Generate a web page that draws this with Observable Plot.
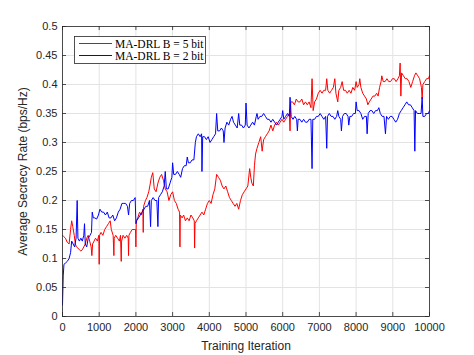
<!DOCTYPE html>
<html>
<head>
<meta charset="utf-8">
<script src="https://cdn.jsdelivr.net/npm/d3@7"></script>
<script src="https://cdn.jsdelivr.net/npm/@observablehq/plot@0.6"></script>
<style>
  html, body { margin: 0; padding: 0; background: #fff; }
  #chart svg { display: block; }
</style>
</head>
<body>
<div id="chart"></div>
<script>
const seriesNames = ["MA-DRL B = 5 bit", "MA-DRL B = 2 bit"];
const seriesColors = ["#ff0000", "#0000ff"];
const xTicks = [0, 1000, 2000, 3000, 4000, 5000, 6000, 7000, 8000, 9000, 10000];
const yTicks = [0, 0.05, 0.1, 0.15, 0.2, 0.25, 0.3, 0.35, 0.4, 0.45, 0.5];
const xLabel = "Training Iteration";
const yLabel = "Average Secrecy Rate (bps/Hz)";

const redIter = [0,30,80,130,180,220,250,280,320,350,380,420,460,500,540,580,620,660,700,740,780,800,820,860,900,950,990,1000,1010,1050,1100,1150,1200,1250,1300,1330,1380,1400,1410,1450,1500,1550,1580,1600,1610,1650,1700,1750,1790,1800,1810,1850,1900,1950,1990,2000,2010,2050,2100,2150,2190,2200,2210,2260,2300,2350,2380,2420,2460,2500,2550,2600,2650,2700,2750,2800,2850,2900,2950,3000,3050,3100,3150,3190,3200,3210,3260,3300,3350,3400,3450,3500,3550,3590,3600,3610,3650,3700,3750,3800,3850,3900,3950,4000,4050,4100,4150,4200,4250,4300,4350,4400,4450,4500,4550,4600,4650,4700,4750,4800,4850,4900,4950,5000,5050,5100,5130,5160,5200,5230,5260,5300,5350,5400,5440,5480,5530,5580,5630,5680,5730,5780,5830,5880,5930,5980,6030,6080,6130,6180,6200,6220,6270,6320,6370,6420,6470,6520,6570,6620,6670,6720,6770,6800,6830,6870,6920,6970,7020,7070,7120,7170,7200,7230,7280,7330,7380,7420,7450,7500,7530,7580,7620,7660,7710,7760,7810,7860,7910,7960,8000,8030,8080,8100,8130,8180,8230,8280,8320,8360,8410,8460,8510,8560,8600,8640,8680,8700,8740,8790,8840,8890,8940,8990,9040,9090,9140,9180,9200,9220,9240,9290,9340,9390,9440,9490,9540,9590,9630,9680,9730,9780,9800,9820,9870,9920,9970,10000];
const redRate = [0.14,0.138,0.135,0.128,0.125,0.15,0.165,0.155,0.14,0.125,0.12,0.118,0.115,0.113,0.115,0.12,0.125,0.135,0.14,0.13,0.12,0.105,0.125,0.13,0.135,0.13,0.14,0.09,0.14,0.145,0.14,0.15,0.155,0.16,0.165,0.15,0.14,0.105,0.135,0.14,0.135,0.13,0.14,0.095,0.13,0.14,0.135,0.14,0.135,0.105,0.14,0.145,0.15,0.15,0.15,0.12,0.165,0.17,0.18,0.175,0.185,0.145,0.19,0.2,0.205,0.215,0.225,0.24,0.248,0.22,0.215,0.23,0.24,0.245,0.235,0.22,0.215,0.2,0.21,0.215,0.2,0.195,0.185,0.18,0.12,0.175,0.17,0.175,0.165,0.17,0.165,0.175,0.17,0.165,0.118,0.16,0.165,0.17,0.175,0.18,0.175,0.185,0.195,0.2,0.195,0.21,0.22,0.245,0.24,0.235,0.225,0.22,0.225,0.215,0.205,0.2,0.195,0.19,0.195,0.185,0.2,0.21,0.215,0.22,0.225,0.255,0.24,0.23,0.225,0.26,0.28,0.29,0.3,0.31,0.285,0.305,0.31,0.315,0.32,0.33,0.32,0.33,0.335,0.33,0.335,0.34,0.335,0.34,0.345,0.35,0.32,0.37,0.37,0.365,0.375,0.37,0.37,0.375,0.365,0.37,0.365,0.37,0.36,0.41,0.355,0.37,0.375,0.385,0.39,0.385,0.39,0.39,0.41,0.39,0.385,0.39,0.395,0.41,0.385,0.37,0.39,0.395,0.405,0.39,0.39,0.385,0.39,0.385,0.395,0.39,0.405,0.395,0.4,0.41,0.395,0.385,0.38,0.375,0.365,0.37,0.375,0.38,0.38,0.385,0.38,0.395,0.405,0.415,0.405,0.405,0.41,0.405,0.405,0.41,0.41,0.405,0.41,0.415,0.437,0.38,0.42,0.415,0.41,0.41,0.405,0.395,0.405,0.415,0.42,0.415,0.41,0.395,0.375,0.4,0.405,0.41,0.41,0.415];

const blueIter = [0,20,40,80,130,180,220,250,290,330,370,400,420,460,500,540,580,600,620,660,700,750,790,810,840,880,930,980,1020,1070,1120,1170,1220,1270,1320,1370,1420,1470,1520,1570,1620,1670,1720,1770,1800,1830,1880,1930,1980,2000,2020,2070,2120,2170,2220,2270,2320,2370,2400,2420,2470,2520,2570,2600,2620,2670,2720,2770,2800,2830,2880,2930,2980,3000,3030,3080,3130,3180,3220,3270,3320,3370,3400,3430,3480,3530,3580,3620,3650,3700,3750,3790,3800,3820,3870,3920,3970,4020,4070,4120,4170,4200,4230,4280,4330,4380,4400,4430,4480,4530,4580,4620,4660,4710,4760,4800,4830,4880,4930,4980,5000,5030,5080,5130,5180,5230,5280,5300,5330,5380,5430,5480,5530,5580,5630,5680,5730,5780,5830,5880,5930,5980,6000,6030,6080,6130,6180,6200,6230,6280,6330,6380,6400,6420,6470,6520,6570,6620,6670,6720,6770,6800,6820,6870,6920,6970,7020,7070,7120,7170,7200,7220,7270,7320,7370,7420,7470,7500,7530,7580,7600,7630,7680,7730,7780,7800,7830,7880,7930,7980,8000,8030,8080,8130,8180,8230,8280,8300,8330,8380,8430,8480,8530,8580,8620,8660,8710,8760,8800,8830,8880,8930,8980,9030,9080,9130,9180,9230,9280,9330,9380,9430,9480,9530,9580,9600,9620,9670,9720,9770,9800,9820,9870,9920,9970,10000];
const blueRate = [0.02,0.07,0.09,0.092,0.095,0.1,0.11,0.13,0.125,0.12,0.135,0.2,0.135,0.13,0.135,0.13,0.14,0.16,0.125,0.12,0.135,0.14,0.145,0.18,0.17,0.17,0.168,0.175,0.185,0.18,0.18,0.175,0.18,0.17,0.17,0.175,0.165,0.17,0.18,0.185,0.195,0.195,0.195,0.19,0.175,0.195,0.2,0.2,0.205,0.16,0.165,0.17,0.175,0.18,0.185,0.19,0.19,0.2,0.155,0.2,0.205,0.2,0.2,0.155,0.205,0.21,0.215,0.225,0.25,0.22,0.22,0.23,0.24,0.265,0.245,0.245,0.25,0.245,0.24,0.255,0.26,0.26,0.275,0.265,0.265,0.27,0.27,0.3,0.31,0.315,0.31,0.315,0.25,0.31,0.31,0.305,0.31,0.3,0.305,0.31,0.315,0.35,0.32,0.32,0.325,0.32,0.3,0.325,0.335,0.33,0.34,0.345,0.335,0.33,0.325,0.35,0.33,0.33,0.325,0.33,0.368,0.33,0.325,0.33,0.335,0.33,0.345,0.35,0.34,0.345,0.345,0.35,0.345,0.34,0.34,0.335,0.34,0.335,0.33,0.335,0.34,0.345,0.355,0.34,0.345,0.35,0.345,0.378,0.345,0.34,0.345,0.34,0.32,0.34,0.34,0.335,0.34,0.335,0.335,0.34,0.34,0.255,0.34,0.34,0.345,0.345,0.35,0.345,0.34,0.345,0.29,0.345,0.35,0.345,0.345,0.34,0.345,0.355,0.345,0.34,0.32,0.345,0.35,0.35,0.345,0.33,0.345,0.345,0.35,0.35,0.37,0.355,0.355,0.35,0.34,0.345,0.345,0.315,0.35,0.355,0.355,0.35,0.355,0.355,0.36,0.35,0.345,0.345,0.315,0.345,0.34,0.345,0.345,0.34,0.335,0.34,0.35,0.355,0.36,0.365,0.37,0.365,0.365,0.36,0.355,0.285,0.355,0.35,0.35,0.35,0.378,0.345,0.345,0.35,0.35,0.355];

const redData = redIter.map((x, i) => ({x, y: redRate[i]}));
const blueData = blueIter.map((x, i) => ({x, y: blueRate[i]}));
const legendRows = seriesNames.map((name, i) => ({name, color: seriesColors[i], row: i}));

const W = 474, H = 355;
const mL = 62, mR = 45, mT = 26, mB = 39;
const frameH = H - mT - mB, frameW = W - mL - mR;
const axisColor = "#262626";
const gridColor = "#e3e3e3";
const tickLen = 4;

const plot = Plot.plot({
  width: W, height: H,
  marginLeft: mL, marginRight: mR, marginTop: mT, marginBottom: mB,
  style: {fontFamily: "'Liberation Sans', Arial, sans-serif", fontSize: "11px", color: axisColor, background: "#fff"},
  x: {domain: [0, 10000]},
  y: {domain: [0, 0.5]},
  marks: [
    Plot.ruleX(xTicks, {x: d => d, stroke: gridColor, strokeWidth: 1}),
    Plot.ruleY(yTicks, {y: d => d, stroke: gridColor, strokeWidth: 1}),
    Plot.line(redData, {x: "x", y: "y", stroke: seriesColors[0], strokeWidth: 1}),
    Plot.line(blueData, {x: "x", y: "y", stroke: seriesColors[1], strokeWidth: 1}),
    Plot.tickX(xTicks, {x: d => d, insetTop: frameH - tickLen, stroke: axisColor, strokeWidth: 0.8}),
    Plot.tickX(xTicks, {x: d => d, insetBottom: frameH - tickLen, stroke: axisColor, strokeWidth: 0.8}),
    Plot.tickY(yTicks, {y: d => d, insetRight: frameW - tickLen, stroke: axisColor, strokeWidth: 0.8}),
    Plot.tickY(yTicks, {y: d => d, insetLeft: frameW - tickLen, stroke: axisColor, strokeWidth: 0.8}),
    Plot.frame({stroke: axisColor, strokeWidth: 0.8}),
    Plot.axisX(xTicks, {anchor: "bottom", tickSize: 0, tickPadding: 7, tickFormat: d => String(d),
      label: xLabel, labelAnchor: "center", labelArrow: "none", labelOffset: 33, fontSize: 11}),
    Plot.axisY(yTicks, {anchor: "left", tickSize: 0, tickPadding: 5, tickFormat: d => String(d),
      label: yLabel, labelAnchor: "center", labelArrow: "none", labelOffset: 44, fontSize: 11})
  ]
});

d3.select(plot).selectAll("[aria-label='x-axis label'] text, [aria-label='y-axis label'] text")
  .style("font-size", "12px");

// legend inside the plot (top-left)
const svg = d3.select(plot);
const lg = svg.append("g").attr("class", "legend").attr("text-anchor", "start");
const lx = 74, ly = 36, lw = 131, lh = 27;
lg.append("rect").attr("x", lx + 0.5).attr("y", ly + 0.5).attr("width", lw).attr("height", lh)
  .attr("fill", "#fff").attr("stroke", axisColor).attr("stroke-width", 0.8);
const rows = lg.selectAll("g.row").data(legendRows).join("g")
  .attr("class", "row")
  .attr("transform", d => `translate(0,${ly + 7.5 + d.row * 12})`);
rows.append("path")
  .attr("d", `M${lx + 5},0H${lx + 38}`)
  .attr("fill", "none")
  .style("stroke", d => d.color)
  .style("stroke-width", "1px");
rows.append("text").attr("x", lx + 41).attr("y", 0).attr("dy", "0.35em")
  .attr("text-anchor", "start")
  .style("font-family", "'Liberation Serif', 'Times New Roman', serif").style("font-size", "11.5px")
  .attr("fill", "#000").text(d => d.name);

document.getElementById("chart").appendChild(plot);
</script>
</body>
</html>
